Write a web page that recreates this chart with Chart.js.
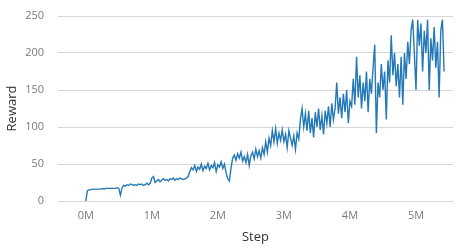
<!DOCTYPE html>
<html lang="en">
<head>
    <meta charset="UTF-8">
    <title>Reward vs Step</title>
    <script src="https://cdn.jsdelivr.net/npm/chart.js"></script>
    <style>
        body {
            margin: 0;
            background-color: #fff;
        }
        #wrap {
            width: 474px;
            height: 249px;
        }
    </style>
</head>
<body>
    <div id="wrap"><canvas id="rewardChart"></canvas></div>

    <script>
        // Logged every 25k steps (values in millions of steps)
        const stepStart = 0;
        const stepInterval = 0.025;

        const rewards = [
            0, 14, 15, 15, 16, 16, 16, 16, 16, 16,          // 0.000 - 0.225
            17, 16, 17, 17, 17, 17, 17, 17, 17, 18,         // 0.250 - 0.475
            17, 8, 18, 21, 20, 22, 21, 23, 22, 21,          // 0.500 - 0.725
            22, 21, 23, 22, 23, 21, 22, 24, 22, 24,         // 0.750 - 0.975
            31, 33, 25, 27, 29, 26, 28, 30, 28, 29,         // 1.000 - 1.225
            27, 30, 29, 31, 28, 30, 29, 31, 30, 29,         // 1.250 - 1.475
            30, 31, 33, 40, 45, 42, 48, 40, 46, 43,         // 1.500 - 1.725
            50, 41, 47, 44, 51, 42, 48, 45, 52, 40,         // 1.750 - 1.975
            49, 46, 53, 44, 50, 38, 30, 27, 45, 58,         // 2.000 - 2.225
            62, 55, 64, 58, 66, 54, 60, 52, 63, 48,         // 2.250 - 2.475
            61, 66, 57, 70, 60, 68, 58, 72, 63, 80,         // 2.500 - 2.725
            66, 85, 75, 95, 80, 98, 78, 92, 82, 96,         // 2.750 - 2.975
            80, 90, 72, 95, 85, 75, 88, 70, 92, 84,         // 3.000 - 3.225
            110, 125, 100, 118, 95, 122, 92, 112, 86, 120,  // 3.250 - 3.475
            100, 125, 96, 115, 90, 122, 105, 128, 100, 132, // 3.500 - 3.725
            110, 125, 160, 118, 140, 112, 145, 120, 150, 105, // 3.750 - 3.975
            135, 128, 165, 130, 195, 140, 170, 125, 160, 135, // 4.000 - 4.225
            175, 120, 165, 145, 180, 211, 92, 160, 140, 185,  // 4.250 - 4.475
            150, 175, 110, 190, 160, 224, 170, 200, 155, 185, // 4.500 - 4.725
            140, 195, 130, 200, 165, 215, 185, 230, 245, 200, // 4.750 - 4.975
            150, 245, 210, 240, 175, 230, 200, 245, 150, 220, // 5.000 - 5.225
            190, 235, 180, 215, 140, 230, 245, 175            // 5.250 - 5.425
        ];

        const yTicks = [0, 50, 100, 150, 200, 250];
        const xTicks = [0, 1, 2, 3, 4, 5];

        const points = rewards.map((r, i) => ({ x: stepStart + i * stepInterval, y: r }));

        const ctx = document.getElementById('rewardChart').getContext('2d');
        new Chart(ctx, {
            type: 'line',
            data: {
                datasets: [{
                    label: 'Reward',
                    data: points,
                    borderColor: '#2378b8',
                    borderWidth: 1.4,
                    pointRadius: 0,
                    fill: false,
                    tension: 0
                }]
            },
            options: {
                responsive: true,
                maintainAspectRatio: false,
                animation: false,
                layout: { padding: { top: 16, right: 21, left: 0, bottom: 0 } },
                plugins: {
                    legend: { display: false },
                    tooltip: { enabled: false }
                },
                scales: {
                    x: {
                        type: 'linear',
                        min: -0.42,
                        max: 5.56,
                        afterBuildTicks: axis => { axis.ticks = xTicks.map(v => ({ value: v })); },
                        afterFit: axis => {
                            axis.height = 48;
                            axis.paddingLeft = 0;
                            axis.paddingRight = 0;
                        },
                        grid: { display: false, drawTicks: false },
                        border: { display: false },
                        ticks: {
                            padding: 8,
                            color: '#7a7a7a',
                            font: { family: 'Open Sans', size: 11 },
                            callback: v => v + 'M'
                        },
                        title: {
                            display: true,
                            text: 'Step',
                            color: '#333',
                            padding: { top: 0, bottom: 4 },
                            font: { family: 'Open Sans', size: 13 }
                        }
                    },
                    y: {
                        min: 0,
                        max: 250,
                        afterBuildTicks: axis => { axis.ticks = yTicks.map(v => ({ value: v })); },
                        afterFit: axis => {
                            axis.width = 58;
                            axis.paddingTop = 0;
                            axis.paddingBottom = 0;
                        },
                        grid: { color: '#d6d6d6', lineWidth: 1, drawTicks: false },
                        border: { display: false },
                        ticks: {
                            padding: 14,
                            color: '#7a7a7a',
                            font: { family: 'Open Sans', size: 11 }
                        },
                        title: {
                            display: true,
                            text: 'Reward',
                            color: '#333',
                            padding: { top: 4, bottom: 4 },
                            font: { family: 'Open Sans', size: 13 }
                        }
                    }
                }
            }
        });
    </script>
</body>
</html>
